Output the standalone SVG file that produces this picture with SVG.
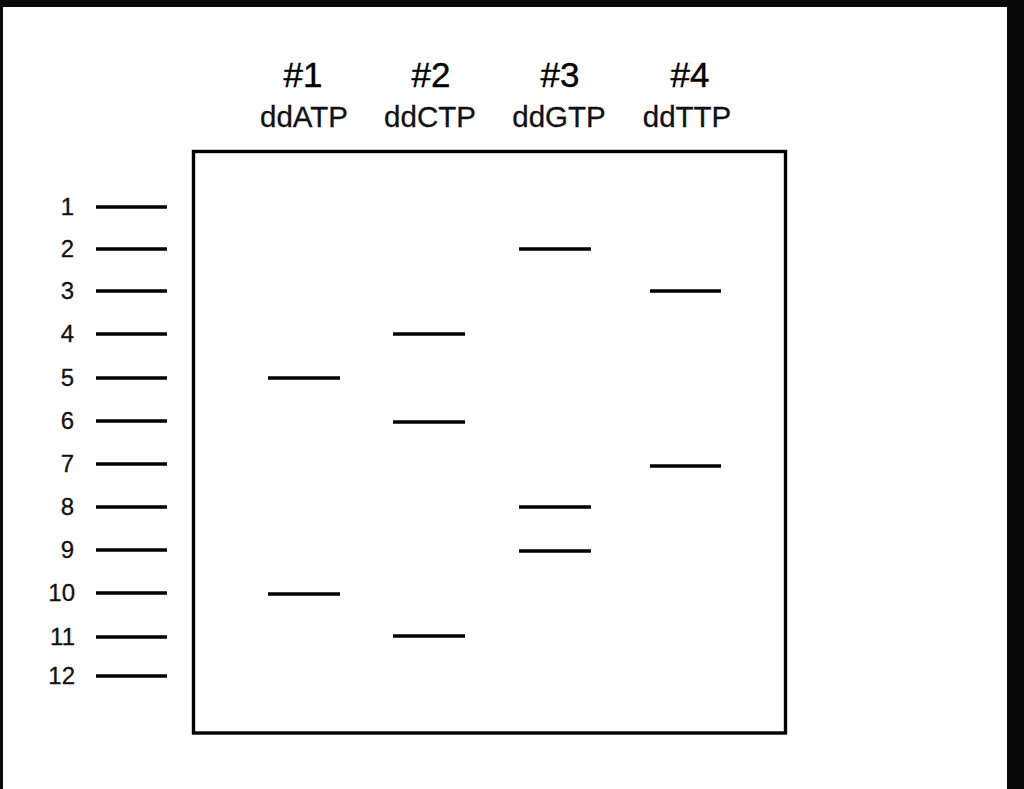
<svg xmlns="http://www.w3.org/2000/svg" width="1024" height="789" viewBox="0 0 1024 789">
<style>
.hd{font-family:"Liberation Sans",Arial,sans-serif;font-size:35px;fill:#000;stroke:#000;stroke-width:0.4;text-anchor:middle}
.sub{font-family:"Liberation Sans",Arial,sans-serif;font-size:29.5px;fill:#111;stroke:#111;stroke-width:0.3;text-anchor:middle}
.num{font-family:"Liberation Sans",Arial,sans-serif;font-size:24px;fill:#111;stroke:#111;stroke-width:0.3;text-anchor:end}
.ln{stroke:#000;stroke-width:3.4;fill:none}
.gel{stroke:#000;stroke-width:3.4;fill:#fff}
</style>
<rect x="0" y="0" width="1024" height="789" fill="#fff"/>
<rect x="0" y="0" width="1024" height="7" fill="#0a0a0a"/>
<rect x="0" y="0" width="3" height="789" fill="#0a0a0a"/>
<rect x="1007" y="0" width="17" height="789" fill="#0a0a0a"/>
<g id="gel"><rect class="gel" x="193.5" y="151.5" width="592" height="581.5"/></g>
<g id="headers">
<g id="lane1-head"><text class="hd" x="303" y="87">#1</text><text class="sub" x="304" y="127">ddATP</text></g>
<g id="lane2-head"><text class="hd" x="431" y="87">#2</text><text class="sub" x="430" y="127">ddCTP</text></g>
<g id="lane3-head"><text class="hd" x="560" y="87">#3</text><text class="sub" x="559" y="127">ddGTP</text></g>
<g id="lane4-head"><text class="hd" x="690" y="87">#4</text><text class="sub" x="687" y="127">ddTTP</text></g>
</g>
<g id="ladder">
<text class="num" x="74" y="215">1</text><line class="ln" x1="96" y1="207" x2="167" y2="207"/>
<text class="num" x="74" y="257">2</text><line class="ln" x1="96" y1="249" x2="167" y2="249"/>
<text class="num" x="74" y="299">3</text><line class="ln" x1="96" y1="291" x2="167" y2="291"/>
<text class="num" x="74" y="342">4</text><line class="ln" x1="96" y1="334" x2="167" y2="334"/>
<text class="num" x="74" y="386">5</text><line class="ln" x1="96" y1="378" x2="167" y2="378"/>
<text class="num" x="74" y="429">6</text><line class="ln" x1="96" y1="421" x2="167" y2="421"/>
<text class="num" x="74" y="472">7</text><line class="ln" x1="96" y1="464" x2="167" y2="464"/>
<text class="num" x="74" y="515">8</text><line class="ln" x1="96" y1="507" x2="167" y2="507"/>
<text class="num" x="74" y="558">9</text><line class="ln" x1="96" y1="550" x2="167" y2="550"/>
<text class="num" x="75" y="601">10</text><line class="ln" x1="96" y1="593" x2="167" y2="593"/>
<text class="num" x="75" y="645">11</text><line class="ln" x1="96" y1="637" x2="167" y2="637"/>
<text class="num" x="75" y="684">12</text><line class="ln" x1="96" y1="676" x2="167" y2="676"/>
</g>
<g id="bands">
<line class="ln" x1="268" y1="378" x2="340" y2="378"/>
<line class="ln" x1="268" y1="594" x2="340" y2="594"/>
<line class="ln" x1="393" y1="334" x2="465" y2="334"/>
<line class="ln" x1="393" y1="422" x2="465" y2="422"/>
<line class="ln" x1="393" y1="636" x2="465" y2="636"/>
<line class="ln" x1="519" y1="249" x2="591" y2="249"/>
<line class="ln" x1="519" y1="507" x2="591" y2="507"/>
<line class="ln" x1="519" y1="551" x2="591" y2="551"/>
<line class="ln" x1="650" y1="291" x2="721" y2="291"/>
<line class="ln" x1="650" y1="466" x2="721" y2="466"/>
</g>
</svg>
